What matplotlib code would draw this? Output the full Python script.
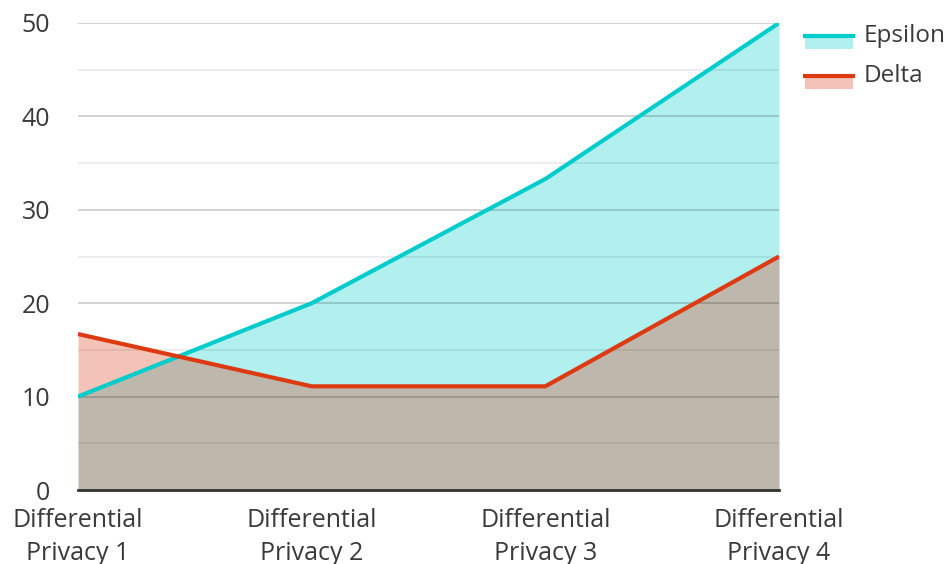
import numpy as np
import matplotlib.pyplot as plt
from matplotlib.patches import Rectangle
from matplotlib.lines import Line2D

plt.rcParams['font.family'] = ['Open Sans', 'DejaVu Sans']

categories = ["Differential\nPrivacy 1", "Differential\nPrivacy 2",
              "Differential\nPrivacy 3", "Differential\nPrivacy 4"]
epsilon = [10, 20, 33.3, 50]
delta = [16.7, 11.1, 11.1, 25]
series_names = ["Epsilon", "Delta"]

eps_color = "#00cccc"
del_color = "#dd3a12"
text_color = "#3a3a3a"

W, H = 949, 564
fig = plt.figure(figsize=(W / 100, H / 100), dpi=100)
ax = fig.add_axes([78 / W, 1 - 490 / H, (779 - 78) / W, (490 - 23) / H])

x = np.arange(len(categories))

ax.fill_between(x, 0, epsilon, color=eps_color, alpha=0.3, linewidth=0, zorder=1)
ax.fill_between(x, 0, delta, color=del_color, alpha=0.3, linewidth=0, zorder=1.1)

# gridlines over the fills
for v in np.arange(5, 51, 5):
    if v % 10 == 0:
        ax.axhline(v, color="#000000", alpha=0.18, linewidth=1.3, zorder=2)
    else:
        ax.axhline(v, color="#000000", alpha=0.08, linewidth=1.3, zorder=2)

ax.plot(x, epsilon, color=eps_color, linewidth=3, zorder=3, solid_capstyle="butt")
ax.plot(x, delta, color=del_color, linewidth=3, zorder=3.1, solid_capstyle="butt")

ax.set_xlim(0, len(categories) - 1)
ax.set_ylim(0, 50)
ax.set_yticks(np.arange(0, 51, 10))
ax.set_xticks(x)
ax.set_xticklabels(categories, linespacing=1.4)
ax.tick_params(length=0, labelsize=18, colors=text_color)
ax.tick_params(axis="y", pad=20)
ax.tick_params(axis="x", pad=13)
for lbl in ax.get_yticklabels():
    lbl.set_horizontalalignment("right")

for s in ["top", "right", "left"]:
    ax.spines[s].set_visible(False)
ax.spines["bottom"].set_color("#333333")
ax.spines["bottom"].set_linewidth(2)
ax.spines["bottom"].set_zorder(4)

# legend
def px(xp, yp):
    return xp / W, 1 - yp / H

for i, (name, col) in enumerate(zip(series_names, [eps_color, del_color])):
    yc = 36 + i * 40
    x0, y0 = px(805, yc + 13)
    x1, y1 = px(853, yc - 2)
    fig.add_artist(Rectangle((x0, y0), x1 - x0, y1 - y0, transform=fig.transFigure,
                             facecolor=col, alpha=0.3, linewidth=0))
    lx0, ly = px(805, yc)
    lx1, _ = px(853, yc)
    fig.add_artist(Line2D([lx0, lx1], [ly, ly], transform=fig.transFigure,
                          color=col, linewidth=3))
    tx, ty = px(864, yc)
    fig.text(tx, ty, name, fontsize=17.5, color=text_color, va="center", ha="left")

fig.savefig("out.png", dpi=100)
